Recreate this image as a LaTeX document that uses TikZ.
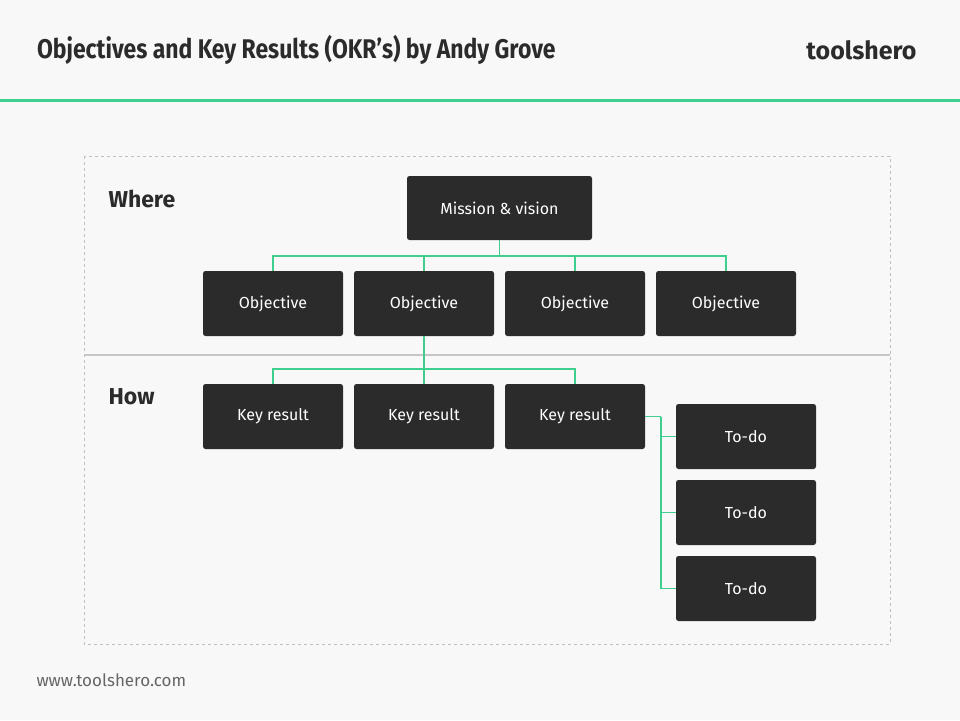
\documentclass[tikz,border=0pt]{standalone}
\usepackage{fontspec}
\setmainfont{Fira Sans}
\begin{document}
\begin{tikzpicture}[x=1pt,y=-1pt,
  box/.style={fill=boxc,rounded corners=2.5pt,text=white,minimum width=140pt,minimum height=65pt,font=\fontsize{16}{18}\selectfont,inner sep=0pt},
  conn/.style={draw=greenc,line width=1.8pt}]
\definecolor{bg}{HTML}{F8F8F9}
\definecolor{boxc}{HTML}{2B2B2B}
\definecolor{greenc}{HTML}{3ECF8E}
\definecolor{txt}{HTML}{2B2B2B}
\fill[bg] (0,0) rectangle (960,720);
\useasboundingbox (0,0) rectangle (960,720);
\draw[greenc,line width=3pt] (0,100) -- (960,100);
\node[anchor=west,text=txt,font=\fontsize{27}{30}\selectfont\bfseries,xscale=0.85] (title) at (34,50) {Objectives and Key Results (OKR’s) by Andy Grove};
\node[anchor=east,text=txt,font=\fontsize{25}{28}\selectfont\bfseries] (logo) at (920,50) {toolshero};
\node[anchor=west,text=gray!80!black,font=\fontsize{17}{20}\selectfont] (url) at (33,680) {www.toolshero.com};
\draw[gray!50,dashed,line width=1pt] (84,156) rectangle (890,644);
\draw[gray!45,line width=1.2pt] (84,355) -- (890,355);
\node[anchor=west,text=txt,font=\fontsize{23}{26}\selectfont\bfseries] (where) at (105,199) {Where};
\node[anchor=west,text=txt,font=\fontsize{23}{26}\selectfont\bfseries] (how) at (105,397) {How};
\node[box,minimum width=185pt,minimum height=64pt] (m) at (499.5,208) {Mission \& vision};
\foreach \i/\x in {1/273,2/424,3/575,4/726}{
  \node[box] (o\i) at (\x,303.5) {Objective};}
\foreach \i/\x in {1/273,2/424,3/575}{
  \node[box] (k\i) at (\x,416.5) {Key result};}
\foreach \i/\y in {1/436.5,2/512.5,3/588.5}{
  \node[box] (t\i) at (746,\y) {To-do};}
\coordinate (mj) at (499.5,256);
\draw[conn] (m.south) -- (mj);
\draw[conn] (o1.north) |- (mj) -| (o4.north);
\draw[conn] (o2.north) |- (mj) -| (o3.north);
\coordinate (oj) at (424,369);
\draw[conn] (o2.south) -- (oj);
\draw[conn] (k1.north) |- (oj) -| (k3.north);
\draw[conn] (oj) -- (k2.north);
\coordinate (kj) at (661,416.5);
\draw[conn] (k3.east) -- (kj);
\draw[conn] (kj) |- (t1.west);
\draw[conn] (kj) |- (t2.west);
\draw[conn] (kj) |- (t3.west);
\end{tikzpicture}
\end{document}
